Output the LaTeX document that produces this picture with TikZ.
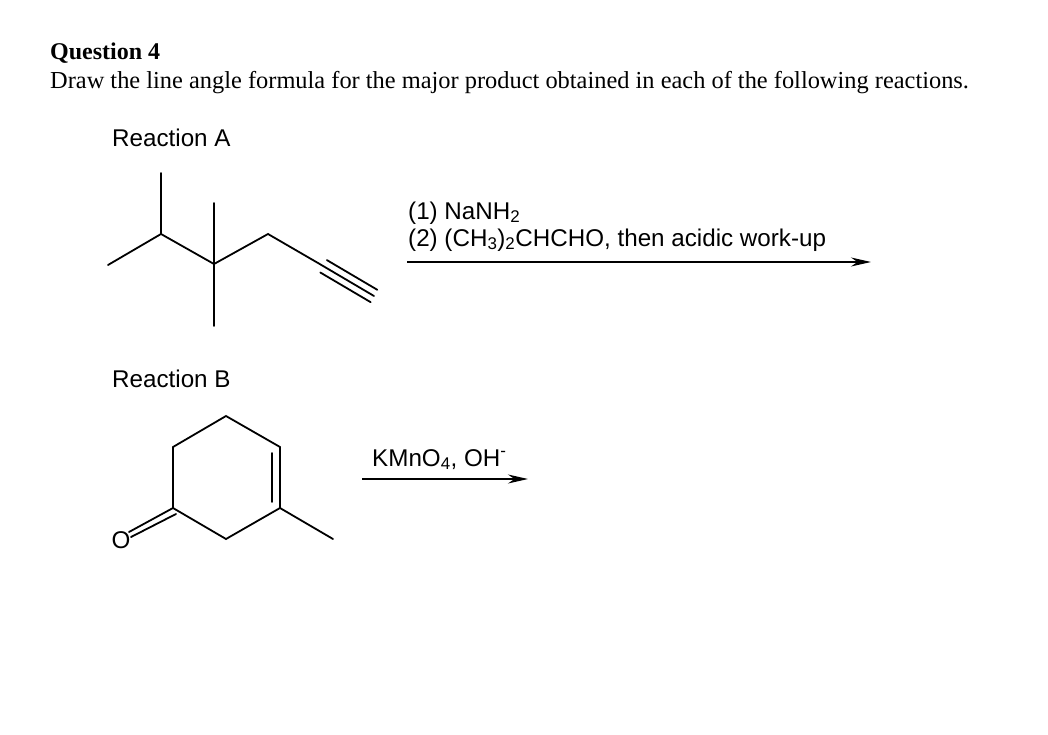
\documentclass[tikz,border=0pt]{standalone}
\usepackage{fontspec}
\setmainfont{Liberation Serif}
\setsansfont{Liberation Sans}
\usetikzlibrary{arrows.meta,calc}
\begin{document}
\begin{tikzpicture}[x=1pt,y=-1pt,
  bond/.style={line width=1.8pt,line cap=round},
  rxn/.style={line width=1.6pt,-{Stealth[length=20pt,width=9pt]}},
  serif/.style={anchor=base west,inner sep=0pt,font=\fontsize{24.4}{27}\selectfont},
  sans/.style={anchor=base west,inner sep=0pt,font=\sffamily\fontsize{24.2}{27}\selectfont}]
\useasboundingbox[fill=white] (0,0) rectangle (1048,735);
\node[serif,font=\bfseries\fontsize{24}{27}\selectfont] (q) at (50,60) {Question 4};
\node[serif] (d) at (50,89) {Draw the line angle formula for the major product obtained in each of the following reactions.};
\node[sans] (ra) at (112,147) {Reaction A};
\node[sans] (rb) at (112,387) {Reaction B};
% molecule A
\coordinate (a1) at (108,265);
\coordinate (a2) at (161,234);
\coordinate (a3) at (161,173);
\coordinate (a4) at (214,264);
\coordinate (a5) at (214,203);
\coordinate (a6) at (214,326);
\coordinate (a7) at (268,234);
\coordinate (a8) at (318,263);
\coordinate (a9) at (374,296);
\draw[bond] (a1)--(a2)--(a4)--(a7)--(a8)--(a9);
\draw[bond] (a2)--(a3);
\draw[bond] (a5)--(a6);
\draw[bond] ($(a8)!0.1!(a9)+(3.3,-6.2)$) -- ($(a9)+(3.3,-6.2)$);
\draw[bond] ($(a8)!0.1!(a9)+(-3.3,6.2)$) -- ($(a9)+(-3.3,6.2)$);
% arrow A
\coordinate (A0) at (407,262);
\coordinate (A1) at (871,262);
\draw[rxn] (A0)--(A1);
\node[sans] (c1) at (408,219) {(1) NaNH\textsubscript{2}};
\node[sans] (c2) at (408,246) {(2) (CH\textsubscript{3})\textsubscript{2}CHCHO, then acidic work-up};
% molecule B
\coordinate (b1) at (226,416);
\coordinate (b2) at (280,447);
\coordinate (b3) at (280,508);
\coordinate (b4) at (226,539);
\coordinate (b5) at (173,508);
\coordinate (b6) at (173,447);
\coordinate (b7) at (333,539);
\draw[bond] (b1)--(b2)--(b3)--(b4)--(b5)--(b6)--cycle;
\draw[bond] (b3)--(b7);
\draw[bond] (272,453)--(272,502);
\node[inner sep=1pt,font=\sffamily\fontsize{24.2}{27}\selectfont] (o) at (121,540) {O};
\draw[bond] (b5)--($(o)+(8,-8)$);
\draw[bond] ($(b5)+(3,6)$)--($(o)+(10,-3)$);
% arrow B
\coordinate (B0) at (362,479);
\coordinate (B1) at (528,479);
\draw[rxn] (B0)--(B1);
\node[sans] (k) at (372,466) {KMnO\textsubscript{4}, OH\textsuperscript{-}};
\end{tikzpicture}
\end{document}
